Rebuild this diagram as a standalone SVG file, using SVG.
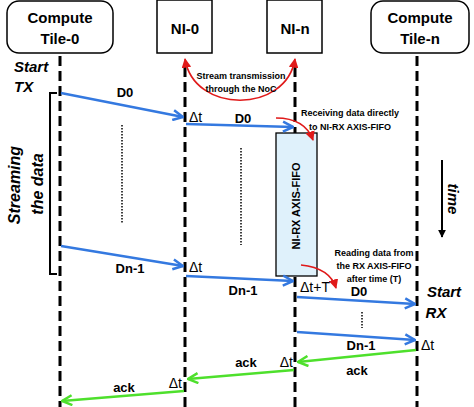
<svg xmlns="http://www.w3.org/2000/svg" width="474" height="407" viewBox="0 0 474 407">
<defs>
<style>
.box{fill:#fff;stroke:#000;stroke-width:1.5}
.hd{font-family:"Liberation Sans",Arial,sans-serif;font-weight:bold;font-size:15px;text-anchor:middle;fill:#000}
.life{stroke:#000;stroke-width:3;stroke-dasharray:10,5;fill:none}
.blue{stroke:#3479e0;stroke-width:2.5;fill:none;marker-end:url(#ab)}
.green{stroke:#4ee02c;stroke-width:2.5;fill:none;marker-end:url(#ag)}
.red{stroke:#e01a1a;stroke-width:1.6;fill:none}
.lbl{font-family:"Liberation Sans",Arial,sans-serif;font-weight:bold;font-size:13px;text-anchor:middle;fill:#000}
.dt{font-family:"Liberation Sans",Arial,sans-serif;font-size:14px;fill:#000}
.sm{font-family:"Liberation Sans",Arial,sans-serif;font-weight:bold;font-size:9px;text-anchor:middle;fill:#000}
.it{font-family:"Liberation Sans",Arial,sans-serif;font-weight:bold;font-style:italic;font-size:15px;fill:#000}
.dot{stroke:#000;stroke-width:1.5;stroke-dasharray:1.5,1.5;fill:none}
</style>
<marker id="ab" viewBox="0 0 10 10" refX="9" refY="5" markerWidth="5" markerHeight="5" markerUnits="strokeWidth" orient="auto">
<polyline points="1,1 9,5 1,9" fill="none" stroke="#3479e0" stroke-width="2"/>
</marker>
<marker id="ag" viewBox="0 0 10 10" refX="9" refY="5" markerWidth="5" markerHeight="5" markerUnits="strokeWidth" orient="auto">
<polyline points="1,1 9,5 1,9" fill="none" stroke="#4ee02c" stroke-width="2"/>
</marker>
<marker id="ar" viewBox="0 0 10 10" refX="9" refY="5" markerWidth="6" markerHeight="6" markerUnits="strokeWidth" orient="auto">
<path d="M0,0 L10,5 L0,10 z" fill="#e01a1a"/>
</marker>
<marker id="ars" viewBox="0 0 10 10" refX="1" refY="5" markerWidth="6" markerHeight="6" markerUnits="strokeWidth" orient="auto">
<path d="M10,0 L0,5 L10,10 z" fill="#e01a1a"/>
</marker>
<marker id="ak" viewBox="0 0 10 10" refX="9" refY="5" markerWidth="4" markerHeight="4" markerUnits="strokeWidth" orient="auto">
<path d="M0,0 L10,5 L0,10 z" fill="#000"/>
</marker>
</defs>
<rect width="474" height="407" fill="#fff"/>

<g id="tile0">
<rect class="box" x="7" y="1" width="106" height="52" rx="12"/>
<text class="hd" x="60" y="23">Compute</text>
<text class="hd" x="60" y="44">Tile-0</text>
</g>
<g id="ni0">
<rect class="box" x="157" y="0" width="55" height="53"/>
<text class="hd" x="185" y="34">NI-0</text>
</g>
<g id="nin">
<rect class="box" x="267" y="0" width="55" height="53"/>
<text class="hd" x="295" y="34">NI-n</text>
</g>
<g id="tilen">
<rect class="box" x="371" y="1" width="98" height="52" rx="12"/>
<text class="hd" x="420" y="23">Compute</text>
<text class="hd" x="420" y="44">Tile-n</text>
</g>

<g id="lifelines">
<line class="life" x1="60" y1="56" x2="60" y2="407"/>
<line class="life" x1="185" y1="67" x2="185" y2="407"/>
<line class="life" x1="295" y1="67" x2="295" y2="407"/>
<line class="life" x1="417" y1="56" x2="417" y2="407"/>
</g>

<g id="fifo">
<rect x="276" y="133" width="41" height="143" fill="#dff1fb" stroke="#000" stroke-width="1.3"/>
<text class="lbl" transform="translate(300,206) rotate(-90)" style="font-size:11px">NI-RX AXIS-FIFO</text>
</g>

<g id="connectors">
<path class="red" d="M185,59 C194,114 286,114 295,59" marker-start="url(#ars)" marker-end="url(#ar)"/>
<path class="blue" d="M61,93 L183,117"/>
<path class="blue" d="M186,124 L293,127"/>
<path class="blue" d="M61,246 L183,266"/>
<path class="blue" d="M186,276 L293,281"/>
<path class="blue" d="M297,297 L415,304"/>
<path class="blue" d="M297,332 L415,340"/>
<path class="green" d="M416,350 L298,362"/>
<path class="green" d="M294,370 L188,379"/>
<path class="green" d="M184,391 L62,401"/>
<path class="red" d="M276,118 Q305,118 313,140" marker-end="url(#ar)"/>
<path class="red" d="M301,265 Q330,268 336,288" marker-end="url(#ar)"/>
<line x1="442" y1="160" x2="442" y2="237" stroke="#000" stroke-width="2" marker-end="url(#ak)"/>
</g>

<g id="dots">
<line class="dot" x1="122" y1="125" x2="122" y2="223"/>
<line class="dot" x1="241" y1="148" x2="241" y2="245"/>
<line class="dot" x1="362" y1="312" x2="362" y2="328"/>
</g>

<g id="bracket">
<path d="M57,93 H50 V274 H57" fill="none" stroke="#000" stroke-width="2"/>
</g>

<g id="labels">
<text class="it" x="14" y="72">Start</text>
<text class="it" x="14" y="92">TX</text>
<text class="it" x="444" y="297" text-anchor="middle">Start</text>
<text class="it" x="436" y="318" text-anchor="middle">RX</text>
<text class="it" style="font-size:16px" text-anchor="middle" transform="translate(20,185) rotate(-90)">Streaming</text>
<text class="it" style="font-size:16px" text-anchor="middle" transform="translate(43,184) rotate(-90)">the data</text>
<text class="it" text-anchor="middle" transform="translate(448,199) rotate(90)">time</text>

<text class="sm" x="241" y="79">Stream transmission</text>
<text class="sm" x="241" y="92">through the NoC</text>
<text class="sm" x="350" y="116">Receiving data directly</text>
<text class="sm" x="350" y="130">to NI-RX AXIS-FIFO</text>
<text class="sm" x="374" y="256">Reading data from</text>
<text class="sm" x="374" y="269">the RX AXIS-FIFO</text>
<text class="sm" x="374" y="282">after time (T)</text>

<text class="lbl" x="125" y="97">D0</text>
<text class="lbl" x="243" y="123">D0</text>
<text class="lbl" x="130" y="273">Dn-1</text>
<text class="lbl" x="243" y="295">Dn-1</text>
<text class="lbl" x="359" y="296">D0</text>
<text class="lbl" x="361" y="350">Dn-1</text>
<text class="lbl" x="357" y="375">ack</text>
<text class="lbl" x="246" y="367">ack</text>
<text class="lbl" x="124" y="392">ack</text>

<text class="dt" x="189" y="122">Δt</text>
<text class="dt" x="189" y="272">Δt</text>
<text class="dt" x="300" y="292">Δt+T</text>
<text class="dt" x="421" y="350">Δt</text>
<text class="dt" x="293" y="367" text-anchor="end">Δt</text>
<text class="dt" x="182" y="388" text-anchor="end">Δt</text>
</g>
</svg>
